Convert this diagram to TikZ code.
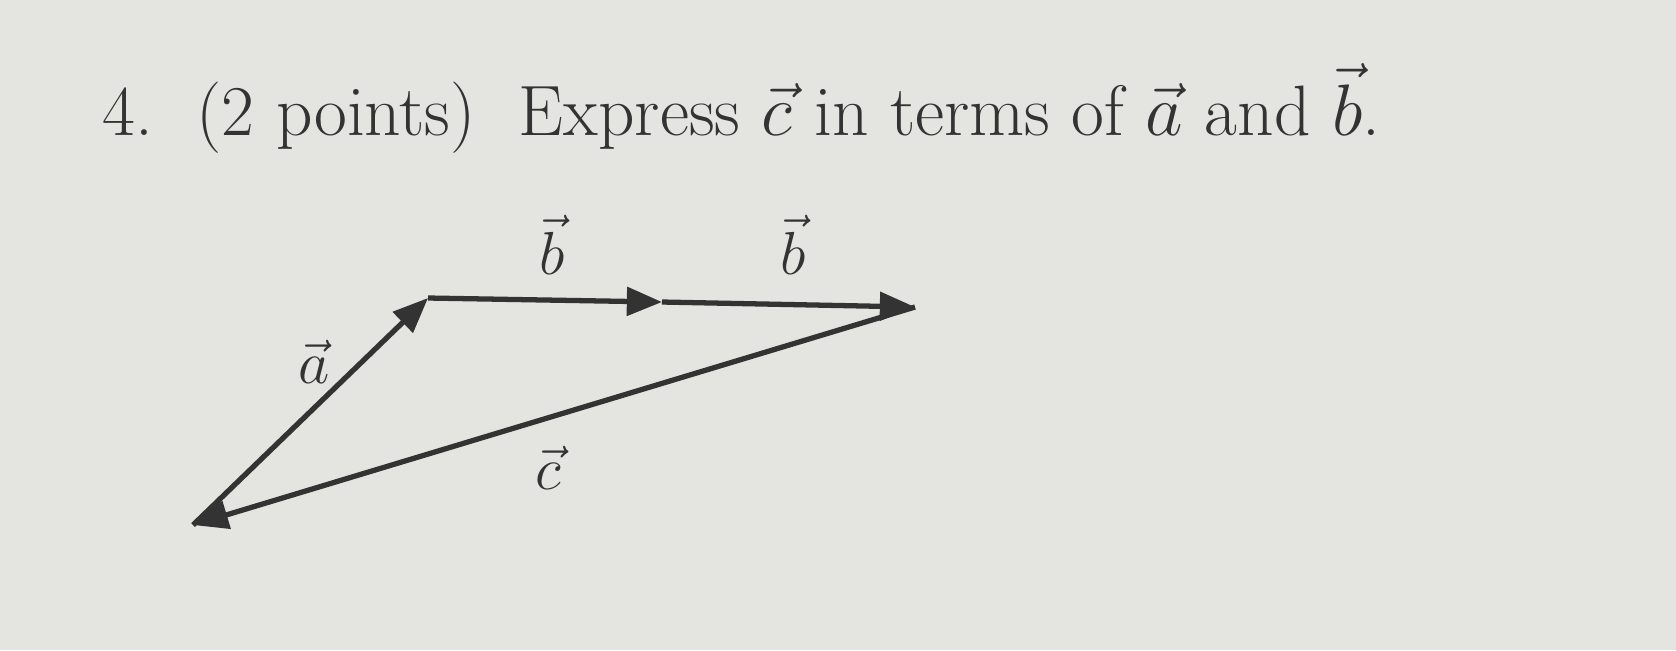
\documentclass[tikz,border=0pt]{standalone}
\usetikzlibrary{arrows.meta}
\definecolor{bg}{HTML}{E4E4E0}
\definecolor{ink}{HTML}{333333}
\tikzset{
  vec/.style={draw=ink, line width=1.5pt, -{Triangle[length=10pt,width=8pt]}},
  lbl/.style={text=ink, font=\fontsize{18}{21}\selectfont},
  title/.style={text=ink, font=\fontsize{20.3}{24}\selectfont, anchor=base west, inner sep=0pt}
}
\begin{document}
\begin{tikzpicture}[x=0.01cm,y=-0.01cm]
\fill[bg] (0,0) rectangle (1676,650);
\useasboundingbox (0,0) rectangle (1676,650);
\node[title] (t) at (102,135) {4.\ \ (2 points)\ \ Express $\vec{c}$ in terms of $\vec{a}$ and $\vec{b}$.};
\coordinate (O) at (193,525);
\coordinate (A) at (428,298);
\coordinate (M) at (662,302);
\coordinate (E) at (915,307);
\draw[vec] (O) -- (A);
\draw[vec] (A) -- (M);
\draw[vec] (M) -- (E);
\draw[vec] (E) -- (O);
\node[lbl] (la) at (314,362) {$\vec{a}$};
\node[lbl] (lb1) at (552,245) {$\vec{b}$};
\node[lbl] (lb2) at (793,245) {$\vec{b}$};
\node[lbl] (lc) at (548,468) {$\vec{c}$};
\end{tikzpicture}
\end{document}
